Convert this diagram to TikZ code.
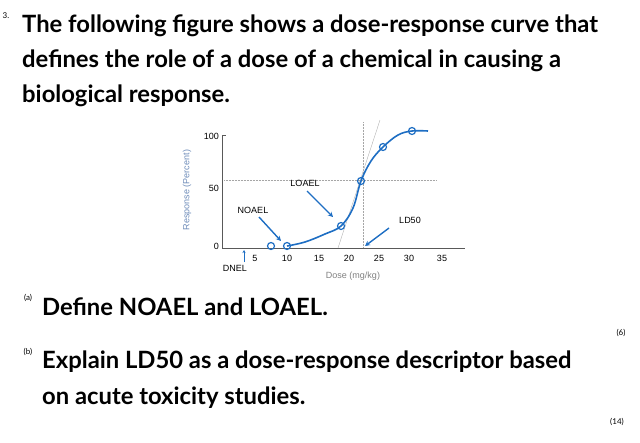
\documentclass[tikz,border=0pt]{standalone}
\usepackage{fontspec}
\usetikzlibrary{arrows.meta}
\setmainfont{Lato}
\newfontfamily\gfont{Liberation Sans}
\definecolor{cblue}{RGB}{30,110,195}
\definecolor{lblue}{RGB}{110,140,185}
\begin{document}
\begin{tikzpicture}[x=1pt,y=-1pt,
  title/.style={anchor=west,font=\bfseries\fontsize{23.8}{26}\selectfont,inner sep=0},
  tiny/.style={font=\fontsize{8}{9}\selectfont,inner sep=0},
  glab/.style={font=\gfont\fontsize{9}{10}\selectfont,inner sep=0},
  pt/.style={circle,draw=cblue,line width=1.2pt,minimum size=7pt,inner sep=0},
  barr/.style={draw=cblue,line width=1.4pt,-{Stealth[length=5pt,width=5pt]}}]
\useasboundingbox (0,0) rectangle (640,442);
\node[tiny] (n3) at (6,16) {3.};
\node[title] (t1) at (22,26) {The following figure shows a dose-response curve that};
\node[title] (t2) at (22,61) {defines the role of a dose of a chemical in causing a};
\node[title] (t3) at (22,96) {biological response.};
% axes
\draw[gray!70!black,line width=0.6pt] (222,135) -- (222,248) -- (465,248);
\draw[gray!70!black,line width=0.6pt] (222,135) -- (226,135);
\draw[gray!70,line width=0.5pt,densely dotted] (224,180) -- (436,180);
\draw[gray!70,line width=0.5pt,densely dotted] (363,122) -- (363,248);
\draw[gray!60,line width=0.4pt] (338,248) -- (380,120);
\foreach \v/\y in {100/136,50/188,0/246} \node[glab,anchor=east] at (219,\y) {\v};
\foreach \v/\x in {5/255,10/287,15/319,20/349,25/379,30/409,35/442} \node[glab] at (\x,258) {\v};
\node[glab,text=lblue,rotate=90] (yl) at (187,190) {Response (Percent)};
\node[glab,text=gray] (xl) at (353,276) {Dose (mg/kg)};
\draw[cblue,line width=1.6pt] plot[smooth,tension=0.6] coordinates {(287,246) (305,242) (325,234) (341,226) (353,208) (361,181) (371,161) (383,147) (398,135) (412,131) (428,131)};
\node[pt] (p1) at (271,246) {};
\node[pt] (p2) at (287,246) {};
\node[pt] (p3) at (341,226) {};
\node[pt] (p4) at (361,181) {};
\node[pt] (p5) at (383,147) {};
\node[pt] (p6) at (412,131) {};
\node[glab] (noael) at (253,210) {NOAEL};
\node[glab] (loael) at (305,183) {LOAEL};
\node[glab] (ld50) at (410,220) {LD50};
\node[glab] (dnel) at (235,268) {DNEL};
\coordinate (a1) at (281,241); \coordinate (a2) at (333,217); \coordinate (a3) at (365,246); \coordinate (a4) at (244,250);
\draw[barr] (259,217) -- (a1);
\draw[barr] (307,191) -- (a2);
\draw[barr] (389,228) -- (a3);
\draw[cblue,line width=0.8pt,-{Stealth[length=3pt,width=3pt]}] (244,262) -- (a4);
\node[tiny] (na) at (28,298) {(a)};
\node[title] (qa) at (42,307) {Define NOAEL and LOAEL.};
\node[tiny] (m6) at (621,333) {(6)};
\node[tiny] (nb) at (28,352) {(b)};
\node[title] (qb1) at (42,362) {Explain LD50 as a dose-response descriptor based};
\node[title] (qb2) at (42,398) {on acute toxicity studies.};
\node[tiny] (m14) at (617,422) {(14)};
\end{tikzpicture}
\end{document}
